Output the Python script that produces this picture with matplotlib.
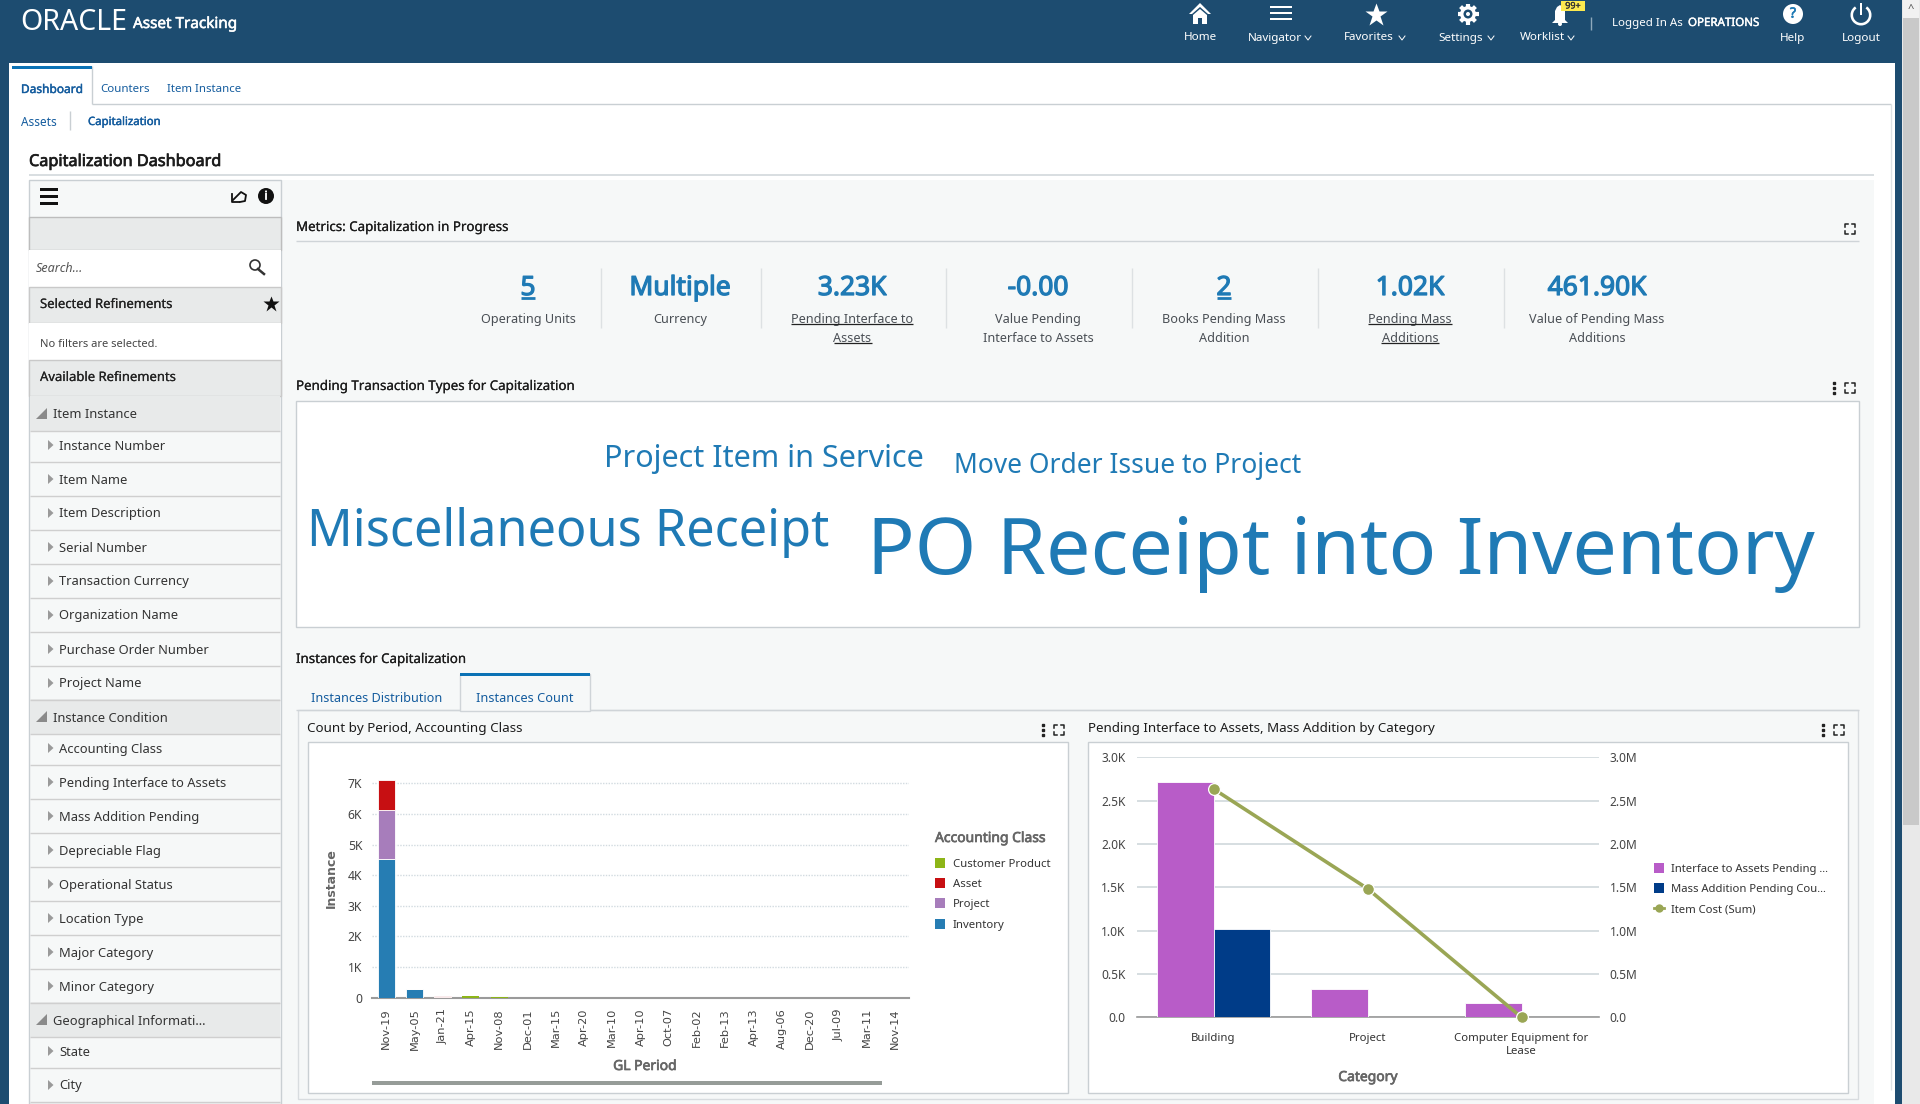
import numpy as np
import matplotlib
matplotlib.use('Agg')
import matplotlib.pyplot as plt
import matplotlib.patheffects as pe
from matplotlib.patches import Rectangle, Circle, Polygon, Wedge

W, H = 1920, 1104
plt.rcParams['font.family'] = ['Noto Sans', 'DejaVu Sans']

# left chart
periods = ['Nov-19', 'May-05', 'Jan-21', 'Apr-15', 'Nov-08', 'Dec-01', 'Mar-15', 'Apr-20', 'Mar-10', 'Apr-10',
           'Oct-07', 'Feb-02', 'Feb-13', 'Apr-13', 'Aug-06', 'Dec-20', 'Jul-09', 'Mar-11', 'Nov-14']
inventory = [4520, 270, 20, 0, 0, 0, 0, 0, 0, 0, 0, 0, 0, 0, 0, 0, 0, 0, 0]
project = [1600, 10, 0, 0, 0, 0, 0, 0, 0, 0, 0, 0, 0, 0, 0, 0, 0, 0, 0]
asset = [990, 0, 40, 0, 0, 0, 0, 0, 0, 0, 0, 0, 0, 0, 0, 0, 0, 0, 0]
customer_product = [0, 0, 0, 60, 15, 0, 0, 0, 0, 0, 0, 0, 0, 0, 0, 0, 0, 0, 0]
count_ticks = [0, 1000, 2000, 3000, 4000, 5000, 6000, 7000]
count_labels = ['0', '1K', '2K', '3K', '4K', '5K', '6K', '7K']
class_names = ['Customer Product', 'Asset', 'Project', 'Inventory']

# right chart
categories = ['Building', 'Project', 'Computer Equipment for\nLease']
interface_pending = [2715, 327, 165]
mass_addition_pending = [1015, 0, 0]
item_cost = [2635000, 1485000, 0]
left_ticks = [0, 500, 1000, 1500, 2000, 2500, 3000]
left_labels = ['0.0', '0.5K', '1.0K', '1.5K', '2.0K', '2.5K', '3.0K']
right_ticks = [0, 500000, 1000000, 1500000, 2000000, 2500000, 3000000]
right_labels = ['0.0', '0.5M', '1.0M', '1.5M', '2.0M', '2.5M', '3.0M']
combo_names = ['Interface to Assets Pending ...', 'Mass Addition Pending Cou...', 'Item Cost (Sum)']

# metrics
metric_values = ['5', 'Multiple', '3.23K', '-0.00', '2', '1.02K', '461.90K']
metric_labels = ['Operating Units', 'Currency', 'Pending Interface to\nAssets', 'Value Pending\nInterface to Assets',
                 'Books Pending Mass\nAddition', 'Pending Mass\nAdditions', 'Value of Pending Mass\nAdditions']
metric_x = [528, 680, 852, 1038, 1224, 1410, 1597]
value_links = [True, False, False, False, True, False, False]

# sidebar
sidebar_rows = [('Item Instance', 414, True), ('Instance Number', 445, False), ('Item Name', 479, False),
                ('Item Description', 513, False), ('Serial Number', 547, False), ('Transaction Currency', 581, False),
                ('Organization Name', 615, False), ('Purchase Order Number', 649, False), ('Project Name', 683, False),
                ('Instance Condition', 717, True), ('Accounting Class', 748, False),
                ('Pending Interface to Assets', 782, False), ('Mass Addition Pending', 816, False),
                ('Depreciable Flag', 850, False), ('Operational Status', 884, False), ('Location Type', 918, False),
                ('Major Category', 952, False), ('Minor Category', 986, False),
                ('Geographical Informati...', 1020, True), ('State', 1051, False), ('City', 1085, False)]

NAVY = '#1D4C70'
BLUE = '#1F7AB5'
LINK = '#145C9E'
INK = '#2B2B2B'
PANEL = '#F6F8F8'
BAND = '#E8EAEA'
LINE = '#C9CFD3'
C_INV = '#267DB3'
C_PRJ = '#A77DBB'
C_AST = '#C70F12'
C_CUS = '#8DB518'
C_PUR = '#B85CC8'
C_NAV = '#003C88'
C_OLV = '#9AA655'

fig = plt.figure(figsize=(19.2, 11.04), dpi=100, facecolor='white')
bg = fig.add_axes([0, 0, 1, 1])
bg.set_xlim(0, W)
bg.set_ylim(H, 0)
bg.axis('off')


def rect(x0, y0, x1, y1, fc='none', ec='none', lw=1, z=1):
    bg.add_patch(Rectangle((x0, y0), x1 - x0, y1 - y0, facecolor=fc, edgecolor=ec, linewidth=lw, zorder=z))


def hline(x0, x1, y, c=LINE, lw=1, z=2):
    bg.plot([x0, x1], [y, y], color=c, lw=lw, zorder=z, solid_capstyle='butt')


def vline(x, y0, y1, c=LINE, lw=1, z=2):
    bg.plot([x, x], [y0, y1], color=c, lw=lw, zorder=z, solid_capstyle='butt')


def txt(x, y, s, size=9, c=INK, ha='left', va='center', bold=0, **kw):
    # Noto Sans has no bold face here, a thin stroke thickens it instead
    kw.setdefault('zorder', 5)
    t = bg.text(x, y + 2.5, s, fontsize=size, color=c, ha=ha, va=va, **kw)
    if bold:
        t.set_path_effects([pe.withStroke(linewidth=bold, foreground=c)])
    return t


def expand_icon(x, y):
    for sx in (-1, 1):
        for sy in (-1, 1):
            bg.plot([x + sx * 5, x + sx * 5, x + sx * 2], [y + sy * 2, y + sy * 5, y + sy * 5],
                    color='#222222', lw=1.1, zorder=5)


def dots_icon(x, y):
    bg.plot([x, x, x], [y - 5, y, y + 5], ls='none', marker='s', ms=1.8, color='#222222', zorder=5)


def px_axes(x0, y0, x1, y1):
    return fig.add_axes([x0 / W, 1 - y1 / H, (x1 - x0) / W, (y1 - y0) / H])


# page frame
rect(0, 0, W, H, fc=NAVY, z=0)
rect(9, 63, 1895, H, fc='white')
rect(1902, 0, W, H, fc='#E9E9E9')
rect(1903, 0, 1919, 825, fc='#C9C9C9', z=1.5)
rect(1903, 0, 1919, 18, fc='#F1F1F1', z=1.6)
txt(1911, 7, '^', size=8, c='#555555', ha='center')

# header
txt(20, 20, 'ORACLE', size=20.5, c='white')
txt(133, 22, 'Asset Tracking', size=11, c='white', bold=0.4)

nav_x = [1200, 1275, 1369, 1461, 1542]
nav_names = ['Home', 'Navigator', 'Favorites', 'Settings', 'Worklist']
for x, name in zip(nav_x, nav_names):
    txt(x, 35.5, name, size=8.4, c='white', ha='center')
for x in (1308, 1402, 1491, 1571):
    bg.plot([x - 3, x, x + 3], [36, 40, 36], color='white', lw=0.7, zorder=5)

# home
bg.add_patch(Polygon([(1189, 14), (1200, 3), (1211, 14), (1208, 14), (1200, 7), (1192, 14)], fc='white', zorder=5))
bg.add_patch(Polygon([(1193, 15), (1200, 9), (1207, 15), (1207, 24), (1202, 24), (1202, 18), (1198, 18), (1198, 24), (1193, 24)], fc='white', zorder=5))
# navigator
for y in (7, 13, 19):
    rect(1270, y - 1.3, 1292, y + 1.3, fc='white', z=5)
# favorites star
bg.plot([1376], [15], marker='*', ms=17, color='white', mec='none', zorder=5)
# settings gear
for a in np.deg2rad([0, 45, 90, 135]):
    bg.plot([1468 - 10.5 * np.cos(a), 1468 + 10.5 * np.cos(a)], [14 - 10.5 * np.sin(a), 14 + 10.5 * np.sin(a)],
            color='white', lw=3, zorder=5, solid_capstyle='butt')
bg.add_patch(Circle((1468, 14), 8, fc='white', zorder=5))
bg.add_patch(Circle((1468, 14), 4.5, fc=NAVY, zorder=6))
bg.add_patch(Circle((1468, 14), 2, fc='white', zorder=7))
# worklist bell
bg.add_patch(Polygon([(1552, 23), (1555, 20), (1555, 11), (1557, 7), (1560, 5), (1563, 7), (1565, 11), (1565, 20), (1568, 23)], fc='white', zorder=5))
bg.add_patch(Circle((1560, 24), 2, fc='white', zorder=5))
rect(1561, 1, 1585, 11, fc='#FCE94F', z=6)
txt(1573, 3.5, '99+', size=6.5, c='#333333', ha='center', bold=0.2, zorder=7)
vline(1591, 17, 30, c='#8FA9BC')
txt(1612, 21, 'Logged In As', size=8.3, c='white')
txt(1688, 21, 'OPERATIONS', size=8.3, c='white', bold=0.3)
# help
bg.add_patch(Circle((1793, 14), 10, fc='white', zorder=5))
txt(1793, 11.5, '?', size=10, c=BLUE, ha='center', bold=0.5, zorder=6)
txt(1793, 35.5, 'Help', size=8.4, c='white', ha='center')
# logout
bg.add_patch(Wedge((1861, 15), 10.5, -55, 235, width=2.6, fc='white', ec='none', zorder=5))
rect(1859.7, 3, 1862.3, 15, fc='white', z=5)
txt(1861, 35.5, 'Logout', size=8.4, c='white', ha='center')

# top tabs
rect(12, 66, 92, 104, fc='white')
rect(12, 66, 92, 68.5, fc='#0B72B5', z=3)
vline(92, 66, 104)
hline(92, 1891, 104)
vline(1891, 104, 1090, c='#DDE1E4')
txt(52, 87, 'Dashboard', size=8.6, c=LINK, ha='center', bold=0.3)
txt(100, 87, 'Counters', size=8.3, c=LINK)
txt(167, 87, 'Item Instance', size=8.2, c=LINK)
txt(21, 120, 'Assets', size=8.5, c=LINK)
vline(70, 111, 130)
txt(88, 120, 'Capitalization', size=8.2, c=LINK, bold=0.3)
txt(29, 159.5, 'Capitalization Dashboard', size=11.7, c='#1C1C1C', bold=0.5)
hline(29, 1874, 175, c='#D2D8DC', lw=1.2)

# grey dashboard panel
rect(29, 180, 1874, H, fc=PANEL)

# sidebar
rect(29, 180, 281, H, fc=PANEL, ec=LINE, lw=1, z=1.2)
rect(29, 217, 281, 250, fc=BAND, ec='#BDBDBD', z=1.3)
rect(29, 250, 281, 287, fc='white', z=1.3)
rect(29, 287, 281, 323, fc=BAND, ec='#C9C9C9', z=1.3)
rect(29, 323, 281, 360, fc='white', z=1.3)
rect(29, 360, 281, 396, fc=BAND, ec='#C9C9C9', z=1.3)
for y in (189, 196, 203):
    rect(40, y - 1.5, 58, y + 1.5, fc='#111111', z=5)
bg.plot([240, 245, 246, 241, 233], [202, 201, 195, 192, 200], color='#111111', lw=1.3, zorder=5)
bg.plot([232, 232, 239], [194, 202, 202], color='#111111', lw=1.3, zorder=5)
bg.add_patch(Circle((266, 196), 8, fc='#111111', zorder=5))
txt(266, 193.5, 'i', size=8.5, c='white', ha='center', bold=0.5, zorder=6)
txt(36, 266.5, 'Search...', size=9, c='#555555', style='italic')
bg.add_patch(Circle((255, 265), 5, fc='none', ec='#333333', lw=1.2, zorder=5))
bg.plot([258, 264], [269, 274], color='#333333', lw=1.8, zorder=5)
txt(40, 302, 'Selected Refinements', size=9.4, c='#222222', bold=0.12)
bg.plot([271], [304], marker='*', ms=12, color='#111111', mec='none', zorder=5)
txt(40, 342, 'No filters are selected.', size=8, c='#444444')
txt(40, 375, 'Available Refinements', size=9.4, c='#222222', bold=0.12)
for name, y, is_group in sidebar_rows:
    if is_group:
        rect(30, y - 18, 280, y + 17, fc=BAND, z=1.3)
        bg.add_patch(Polygon([(36, y + 5), (47, y + 5), (47, y - 6)], fc='#8A8A8A', zorder=5))
        txt(53, y - 1.5, name, size=9.3, c='#333333')
    else:
        bg.add_patch(Polygon([(48, y - 5), (48, y + 5), (53.5, y)], fc='#9A9A9A', zorder=5))
        txt(59, y - 1.5, name, size=9.3, c='#333333')
    hline(30, 280, y + 17, c='#CFCFCF')

# metrics
txt(296, 225, 'Metrics: Capitalization in Progress', size=9.6, c='#1C1C1C', bold=0.12)
hline(296, 1859, 241, c='#CFD4D8')
expand_icon(1850, 229)
for x, value, label, link_value in zip(metric_x, metric_values, metric_labels, value_links):
    txt(x, 285.5, value, size=19, c=BLUE, ha='center', bold=0.9)
    for i, part in enumerate(label.split('\n')):
        txt(x, 316.5 + i * 19.5, part, size=9.1, c='#4A4F55', ha='center')
    if link_value:
        hline(x - 7, x + 7, 298, c=BLUE, lw=2, z=6)
for x, half in ((852, 61), (1410, 42)):
    hline(x - half, x + half, 324, c='#222222', lw=0.9, z=6)
hline(834, 872, 343, c='#222222', lw=0.9, z=6)
hline(1381, 1439, 343, c='#222222', lw=0.9, z=6)
for x in (601, 760.5, 946, 1131.5, 1317.5, 1504):
    vline(x, 268, 328, c='#DDE1E3')

# word cloud
txt(296, 384, 'Pending Transaction Types for Capitalization', size=9.6, c='#1C1C1C', bold=0.12)
dots_icon(1834, 388)
expand_icon(1850, 388)
rect(296, 401, 1859, 627, fc='white', ec=LINE, z=1.5)
txt(604, 457, 'Project Item in Service', size=22, c=BLUE)
txt(954, 463, 'Move Order Issue to Project', size=19, c=BLUE)
txt(307, 529.5, 'Miscellaneous Receipt', size=36.3, c=BLUE)
txt(867, 551, 'PO Receipt into Inventory', size=56.8, c=BLUE)

# chart tabs
txt(296, 657, 'Instances for Capitalization', size=9.6, c='#1C1C1C', bold=0.12)
txt(377, 695.5, 'Instances Distribution', size=9.1, c=LINK, ha='center')
rect(460, 674, 590, 711, fc=PANEL, ec='#CFD4D8', z=2.5)
rect(460, 673, 590, 676, fc='#0B72B5', z=3)
txt(525, 695.5, 'Instances Count', size=9.2, c=LINK, ha='center')

# chart frame
hline(296, 460, 710, c='#CFD4D8')
hline(590, 1859, 710, c='#CFD4D8')
rect(298, 710, 1858, 1099, fc='none', ec='#D8DCDF', z=1.5)
txt(307, 726, 'Count by Period, Accounting Class', size=9.7, c='#1C1C1C')
dots_icon(1043, 730)
expand_icon(1059, 730)
rect(307.5, 742, 1068, 1093, fc='white', ec=LINE, z=1.5)
txt(1088, 726, 'Pending Interface to Assets, Mass Addition by Category', size=9.6, c='#1C1C1C')
dots_icon(1823, 730)
expand_icon(1839, 730)
rect(1088, 742, 1847.5, 1093, fc='white', ec=LINE, z=1.5)

# stacked bar chart
ax = px_axes(372, 770, 909, 997.7)
ax.patch.set_alpha(0)
x = np.arange(len(periods))
inv = np.array(inventory)
prj = np.array(project)
ast = np.array(asset)
cus = np.array(customer_product)
bw = 0.6
ax.bar(x, inv, bw, color=C_INV, edgecolor='white', linewidth=0.6, zorder=3)
ax.bar(x, prj, bw, bottom=inv, color=C_PRJ, edgecolor='white', linewidth=0.6, zorder=3)
ax.bar(x, ast, bw, bottom=inv + prj, color=C_AST, edgecolor='white', linewidth=0.6, zorder=3)
ax.bar(x, cus, bw, bottom=inv + prj + ast, color=C_CUS, zorder=3)
ax.set_xlim(-0.5, 18.5)
ax.set_ylim(0, 7434)
ax.set_yticks(count_ticks, count_labels, fontsize=8.8, color='#444444')
ax.set_xticks(x, periods, rotation=90, fontsize=8.2, color='#444444', family='DejaVu Sans')
ax.tick_params(length=0)
ax.tick_params(axis='y', pad=7)
ax.tick_params(axis='x', pad=7.5)
ax.grid(axis='y', color='#D2DBE0', lw=1, ls=(0, (1, 1)), zorder=0)
for s in ('top', 'right', 'left'):
    ax.spines[s].set_visible(False)
ax.spines['bottom'].set_color('#9A9A9A')
ax.spines['bottom'].set_linewidth(1.5)
txt(331, 876, 'Instance', size=9, c='#666666', ha='center', rotation=90, fontweight='bold', family='DejaVu Sans')
txt(645, 1064, 'GL Period', size=10, c='#666666', ha='center', bold=0.5)
rect(372, 1081, 882, 1085, fc='#969C98', z=3)
txt(935, 836, 'Accounting Class', size=10, c='#666666', bold=0.5)
for name, col, y in zip(class_names, [C_CUS, C_AST, C_PRJ, C_INV], [863, 883, 903, 924]):
    rect(935, y - 5, 945, y + 5, fc=col, z=3)
    txt(953, y - 1, name, size=8.2, c='#333333')

# combo chart
ax2 = px_axes(1136.5, 757.3, 1598.5, 1017.3)
ax2.patch.set_alpha(0)
xc = np.arange(len(categories))
bw2 = 0.37
ax2.bar(xc - bw2 / 2, interface_pending, bw2, color=C_PUR, edgecolor='white', linewidth=0.6, zorder=3)
ax2.bar(xc + bw2 / 2, mass_addition_pending, bw2, color=C_NAV, edgecolor='white', linewidth=0.6, zorder=3)
ax2.set_xlim(-0.5, 2.5)
ax2.set_ylim(0, 3000)
ax2.set_yticks(left_ticks, left_labels, fontsize=8.6, color='#444444')
ax2.set_xticks(xc, categories, fontsize=8.2, color='#333333', linespacing=1.35)
ax2.tick_params(length=0)
ax2.tick_params(axis='y', pad=8)
ax2.tick_params(axis='x', pad=11)
ax2.grid(axis='y', color='#CFD8DC', lw=1.2, zorder=0)
for s in ('top', 'right', 'left'):
    ax2.spines[s].set_visible(False)
ax2.spines['bottom'].set_color('#9A9A9A')
ax2.spines['bottom'].set_linewidth(1.2)
ax3 = ax2.twinx()
ax3.patch.set_alpha(0)
ax3.plot(xc, item_cost, color=C_OLV, lw=2.6, marker='o', ms=8.5, mfc=C_OLV, mec='white', mew=0.9, clip_on=False, zorder=5)
ax3.set_ylim(0, 3000000)
ax3.set_yticks(right_ticks, right_labels, fontsize=8.6, color='#444444')
ax3.tick_params(length=0, pad=8)
for s in ax3.spines.values():
    s.set_visible(False)
txt(1368, 1075, 'Category', size=10, c='#666666', ha='center', bold=0.5)
for name, y in zip(combo_names[:2], [868, 888]):
    rect(1654, y - 5, 1664, y + 5, fc=C_PUR if y == 868 else C_NAV, z=3)
    txt(1671, y - 1, name, size=8.1, c='#333333')
bg.plot([1654, 1664], [908, 908], color=C_OLV, lw=2, zorder=4)
bg.plot([1659], [908], marker='o', ms=6, color=C_OLV, mec='none', zorder=5)
txt(1671, 907, combo_names[2], size=8.1, c='#333333')

fig.savefig('out.png', dpi=100)
